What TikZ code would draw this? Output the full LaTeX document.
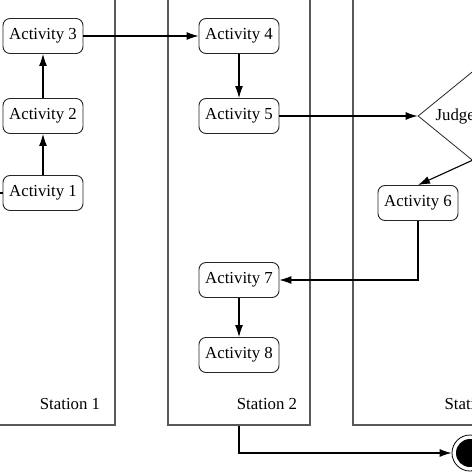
\documentclass[tikz,border=0pt]{standalone}
\usepackage{fontspec}
\setmainfont{Liberation Serif}
\usetikzlibrary{arrows.meta}
\usetikzlibrary{shapes.geometric}

\begin{document}
\begin{tikzpicture}[x=1pt, y=-1pt,
    activity/.style={draw=black!85, line width=0.9pt, rounded corners=7pt, minimum width=80pt, minimum height=35pt, inner sep=0pt, font=\fontsize{16.8}{19}\selectfont},
    station/.style={draw=black!65, line width=1.3pt, inner sep=0pt},
    stationlabel/.style={font=\fontsize{16.8}{19}\selectfont},
    flow/.style={line width=1.1pt, -{Latex[length=12pt, width=8pt]}}]
            \useasboundingbox (0,0) rectangle (472,472);
            \clip (0,0) rectangle (472,472);

            % swimlanes
            \node [station, minimum width=145pt, minimum height=445pt] (st1) at (42.5,202.5) {};
            \node [station, minimum width=142pt, minimum height=445pt] (st2) at (239,202.5) {};
            \node [station, minimum width=163pt, minimum height=445pt] (st3) at (434.5,202.5) {};
            \node [stationlabel] (st1lbl) at (70,404) {Station 1};
            \node [stationlabel] (st2lbl) at (267,404) {Station 2};
            \node [stationlabel, anchor=west] (st3lbl) at (441,404) {Station 3};

            % activities
            \node [activity] (act1) at (43,193) {Activity 1};
            \node [activity] (act2) at (43,116) {Activity 2};
            \node [activity] (act3) at (43,36) {Activity 3};
            \node [activity] (act4) at (239,36) {Activity 4};
            \node [activity] (act5) at (239,116) {Activity 5};
            \node [draw=black!85, line width=0.8pt, diamond, minimum width=108pt, minimum height=62pt, inner sep=0pt, font=\fontsize{16.8}{19}\selectfont] (judge) at (472,116) {Judgement};
            \node [activity] (act6) at (418,203) {Activity 6};
            \node [activity] (act7) at (239,280) {Activity 7};
            \node [activity] (act8) at (239,355) {Activity 8};

            % final node
            \node [circle, draw, line width=0.8pt, minimum size=36pt, inner sep=0pt] (final) at (470,453) {};
            \fill (final) circle (14);

            \coordinate (start) at (-30,193);
            \draw [line width=1.1pt] (start) -- (act1.west);
            \draw [flow] (act1) -- (act2);
            \draw [flow] (act2) -- (act3);
            \draw [flow] (act3) -- (act4);
            \draw [flow] (act4) -- (act5);
            \draw [flow] (act5) -- (judge.west);
            \draw [flow] (judge.south) -- (act6.north);
            \draw [flow] (act6.south) |- (act7.east);
            \draw [flow] (act7) -- (act8);
            \draw [flow] (st2.south) |- (final.west);
\end{tikzpicture}
\end{document}
